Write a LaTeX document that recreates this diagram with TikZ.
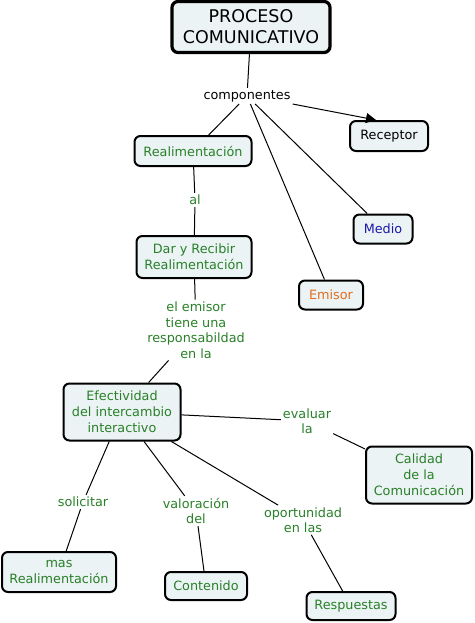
\documentclass[tikz,border=0pt]{standalone}
\usepackage{fontspec}
\setmainfont{DejaVu Sans}
\usetikzlibrary{arrows.meta}
\definecolor{conceptfill}{RGB}{236,243,245}
\definecolor{linkgreen}{RGB}{40,128,40}
\definecolor{mediumblue}{RGB}{25,25,170}
\definecolor{emisororange}{RGB}{225,110,30}
\tikzset{
  concept/.style={draw, line width=2pt, rounded corners=6pt, fill=conceptfill,
    align=center, font=\fontsize{12.8}{15.8}\selectfont, inner sep=3pt},
  linkphrase/.style={align=center, text=linkgreen, font=\fontsize{12.8}{15.5}\selectfont, inner sep=2pt},
  conn/.style={draw, line width=1pt}
}
\begin{document}
\begin{tikzpicture}[x=1pt,y=-1pt]
        \useasboundingbox (0,0) rectangle (474,623);
        \node [concept, line width=3.2pt, minimum width=158, minimum height=51,
          font=\fontsize{17.5}{21}\selectfont] (proceso) at (251,27) {PROCESO\\COMUNICATIVO};
        \node [linkphrase, text=black] (componentes) at (247,96) {componentes};
        \node [concept, minimum width=78, minimum height=30] (receptor) at (389,136) {Receptor};
        \node [concept, text=linkgreen, minimum width=117, minimum height=30] (realim) at (193,151) {Realimentación};
        \node [concept, text=mediumblue, minimum width=59, minimum height=29] (medio) at (383,229) {Medio};
        \node [concept, text=emisororange, minimum width=64, minimum height=29] (emisor) at (331,295) {Emisor};
        \node [linkphrase] (al) at (195,200) {al};
        \node [concept, text=linkgreen, minimum width=115, minimum height=42] (dar) at (194,257) {Dar y Recibir\\Realimentación};
        \node [linkphrase] (responsab) at (196,330) {el emisor\\tiene una\\responsabildad\\en la};
        \node [concept, text=linkgreen, minimum width=117, minimum height=57] (efect) at (122,412) {Efectividad\\del intercambio\\interactivo};
        \node [linkphrase] (evaluar) at (307,421) {evaluar\\la};
        \node [concept, text=linkgreen, minimum width=106, minimum height=57] (calidad) at (419,475) {Calidad\\de la\\Comunicación};
        \node [linkphrase] (solicitar) at (83,502) {solicitar};
        \node [linkphrase] (valoracion) at (196,511) {valoración\\del};
        \node [linkphrase] (oportunidad) at (303,520) {oportunidad\\en las};
        \node [concept, text=linkgreen, minimum width=114, minimum height=40] (masrealim) at (59,572) {mas\\Realimentación};
        \node [concept, text=linkgreen, minimum width=82, minimum height=28] (contenido) at (206,586) {Contenido};
        \node [concept, text=linkgreen, minimum width=89, minimum height=28] (respuestas) at (351,606) {Respuestas};
        \draw [conn] (proceso) -- (componentes);
        \draw [conn, -{Triangle[length=10pt,width=10pt]}] (componentes.south east) -- ([xshift=-13pt]receptor.north);
        \draw [conn] (componentes) -- (realim);
        \draw [conn] (componentes) -- (emisor);
        \draw [conn] (componentes) -- (medio);
        \draw [conn] (realim) -- (al);
        \draw [conn] (al) -- (dar);
        \draw [conn] (dar) -- (responsab);
        \draw [conn] (responsab) -- (efect);
        \draw [conn] (efect) -- (evaluar);
        \draw [conn] (evaluar) -- (calidad);
        \draw [conn] (efect) -- (solicitar);
        \draw [conn] (solicitar) -- (masrealim);
        \draw [conn] (efect) -- (valoracion);
        \draw [conn] (valoracion) -- (contenido);
        \draw [conn] (efect) -- (oportunidad);
        \draw [conn] (oportunidad) -- (respuestas);
      \end{tikzpicture}
\end{document}
